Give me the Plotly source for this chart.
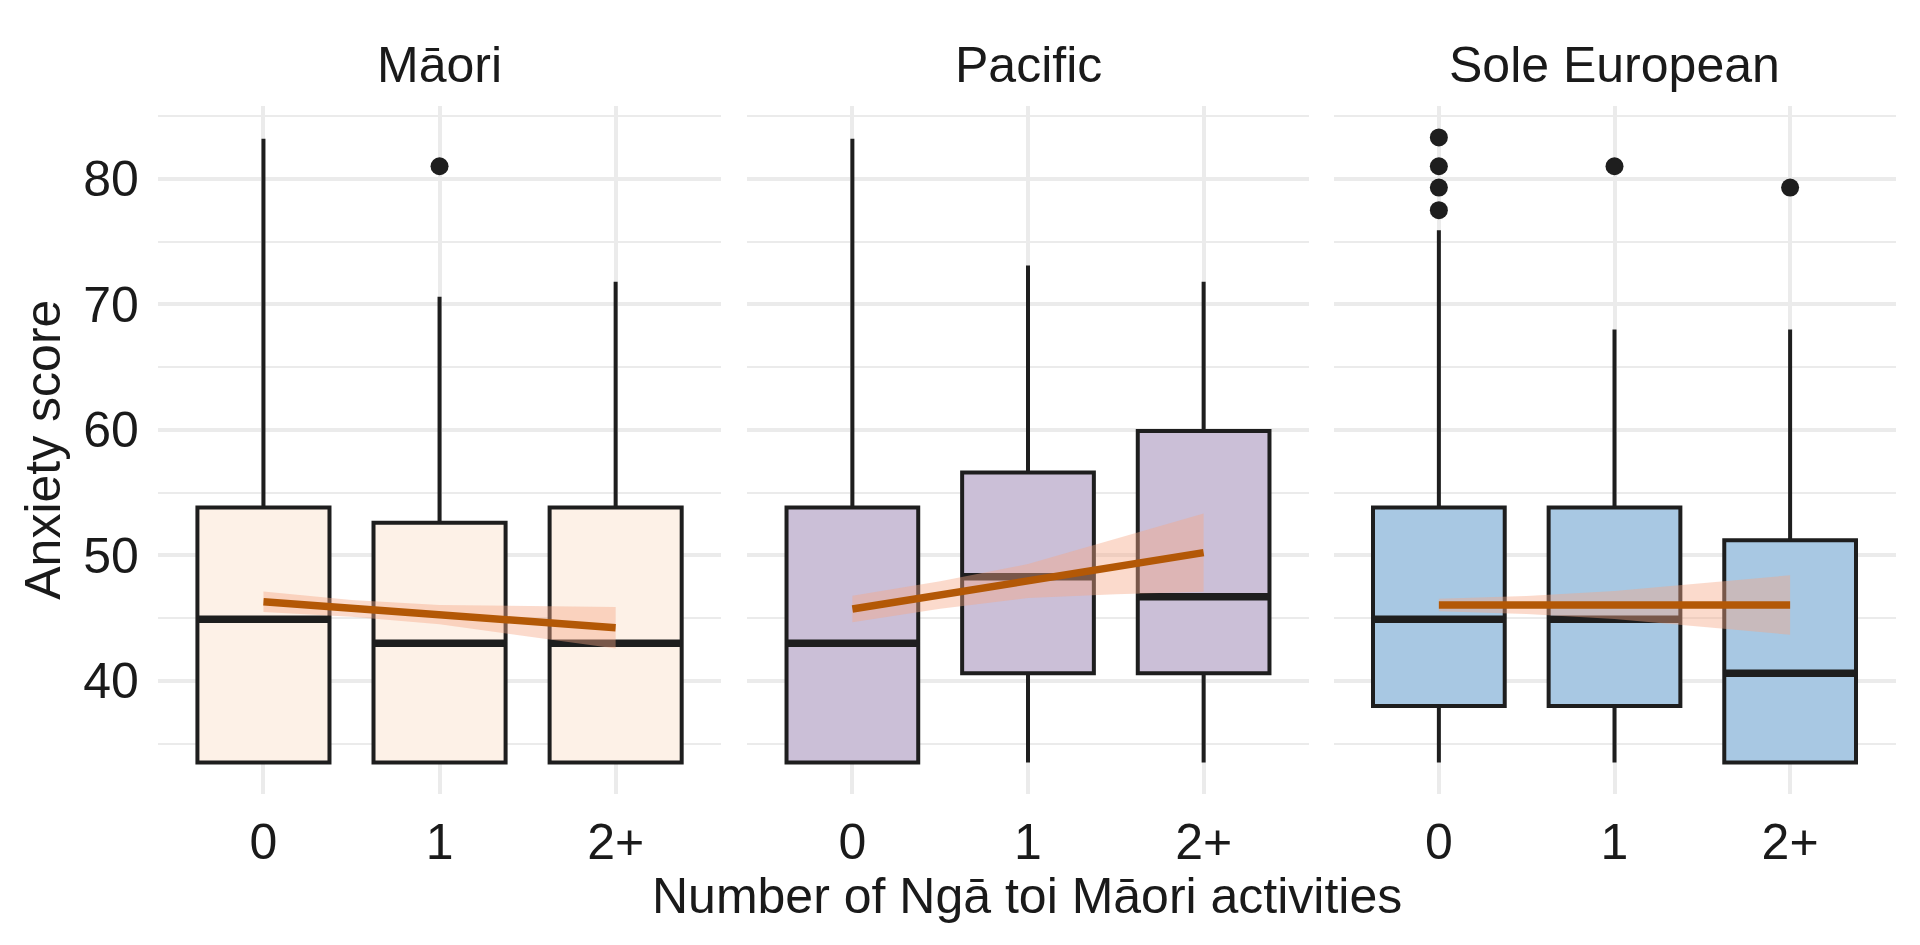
import plotly.graph_objects as go

# ---------------- data ----------------
groups = ["Māori", "Pacific", "Sole European"]
categories = ["0", "1", "2+"]

# box statistics, one list per group (order of groups above)
q1 = [[33.5, 33.5, 33.5], [33.5, 40.6, 40.6], [38.0, 38.0, 33.5]]
median = [[44.9, 43.0, 43.0], [43.0, 48.3, 46.7], [44.9, 44.9, 40.6]]
q3 = [[53.8, 52.6, 53.8], [53.8, 56.6, 59.9], [53.8, 53.8, 51.2]]
lower_whisker = [[33.5, 33.5, 33.5], [33.5, 33.5, 33.5], [33.5, 33.5, 33.5]]
upper_whisker = [[83.2, 70.6, 71.8], [83.2, 73.1, 71.8], [75.9, 68.0, 68.0]]

# outliers: (category index, value)
outlier_cat = [[1], [], [0, 0, 0, 0, 1, 2]]
outlier_val = [[81.0], [], [83.3, 81.0, 79.3, 77.5, 81.0, 79.3]]

# linear trend with confidence band, read at these category positions
trend_pos = [0, 0.5, 1, 1.5, 2]
trend_fit = [[46.30, 45.78, 45.27, 44.76, 44.23],
             [45.72, 46.84, 47.95, 49.09, 50.21],
             [46.04, 46.04, 46.04, 46.04, 46.04]]
trend_upper = [[47.12, 46.44, 46.04, 45.96, 45.88],
               [46.78, 47.94, 49.30, 51.29, 53.33],
               [46.54, 46.76, 47.16, 47.81, 48.41]]
trend_lower = [[45.48, 45.11, 44.50, 43.56, 42.58],
               [44.66, 45.74, 46.60, 46.89, 47.09],
               [45.54, 45.32, 44.92, 44.27, 43.67]]

y_ticks = [40, 50, 60, 70, 80]

# ---------------- style ----------------
fills = ["#FDF1E7", "#CBBFD7", "#A8C8E3"]
ink = "#1E1E1E"
txt = "#1A1A1A"
grid = "#EBEBEB"
line_col = "#B35806"
band_col = "rgba(245,168,133,0.42)"
FONT = "Liberation Sans, Arial, sans-serif"
FS = 50
BOXW = 0.75

W, H = 1920, 945
panel_px = [(157.8, 721.3), (747.0, 1309.0), (1333.5, 1895.5)]
top_px, bot_px = 106.0, 793.5
ydom = [1 - bot_px / H, 1 - top_px / H]

fig = go.Figure()

for g in range(3):
    xa = "x" if g == 0 else f"x{g+1}"
    ya = "y" if g == 0 else f"y{g+1}"
    pos = list(range(len(categories)))
    fig.add_trace(go.Box(
        x=pos, q1=q1[g], median=median[g], q3=q3[g],
        lowerfence=lower_whisker[g], upperfence=upper_whisker[g],
        width=BOXW, fillcolor=fills[g], line=dict(color=ink, width=4),
        whiskerwidth=0, boxpoints=False, showlegend=False,
        hoverinfo="skip", xaxis=xa, yaxis=ya))

for g in range(3):
    xa = "x" if g == 0 else f"x{g+1}"
    ya = "y" if g == 0 else f"y{g+1}"
    # thick median bars
    mx, my = [], []
    for i, m in enumerate(median[g]):
        mx += [i - BOXW / 2, i + BOXW / 2, None]
        my += [m, m, None]
    fig.add_trace(go.Scatter(x=mx, y=my, mode="lines",
                             line=dict(color=ink, width=7.5),
                             showlegend=False, hoverinfo="skip",
                             xaxis=xa, yaxis=ya))
    if outlier_val[g]:
        fig.add_trace(go.Scatter(x=outlier_cat[g], y=outlier_val[g],
                                 mode="markers",
                                 marker=dict(color=ink, size=18),
                                 showlegend=False, hoverinfo="skip",
                                 xaxis=xa, yaxis=ya))
    # confidence band
    bx = trend_pos + trend_pos[::-1]
    by = trend_upper[g] + trend_lower[g][::-1]
    fig.add_trace(go.Scatter(x=bx, y=by, mode="lines", fill="toself",
                             fillcolor=band_col, line=dict(width=0),
                             showlegend=False, hoverinfo="skip",
                             xaxis=xa, yaxis=ya))
    fig.add_trace(go.Scatter(x=trend_pos, y=trend_fit[g], mode="lines",
                             line=dict(color=line_col, width=7.5),
                             showlegend=False, hoverinfo="skip",
                             xaxis=xa, yaxis=ya))

layout = dict(
    width=W, height=H, margin=dict(l=0, r=0, t=0, b=0),
    paper_bgcolor="white", plot_bgcolor="white",
    font=dict(family=FONT, size=FS, color=txt),
    showlegend=False,
)
for g in range(3):
    xk = "xaxis" if g == 0 else f"xaxis{g+1}"
    yk = "yaxis" if g == 0 else f"yaxis{g+1}"
    x0, x1 = panel_px[g]
    layout[xk] = dict(
        domain=[x0 / W, x1 / W], range=[-0.6, 2.6],
        tickmode="array", tickvals=list(range(len(categories))),
        ticktext=categories, showgrid=True, gridcolor=grid, gridwidth=3.5,
        zeroline=False, showline=False, ticks="",
        tickfont=dict(family=FONT, size=FS, color=txt),
        ticklabelstandoff=14, anchor="y" if g == 0 else f"y{g+1}",
    )
    layout[yk] = dict(
        domain=ydom, range=[31.02, 85.8],
        tickmode="array", tickvals=y_ticks,
        showgrid=True, gridcolor=grid, gridwidth=3.5,
        minor=dict(dtick=5, tick0=0, showgrid=True, gridcolor=grid, gridwidth=1.8),
        zeroline=False, showline=False, ticks="",
        showticklabels=(g == 0),
        tickfont=dict(family=FONT, size=FS, color=txt),
        ticklabelstandoff=18,
        anchor="x" if g == 0 else f"x{g+1}",
    )
    if g > 0:
        layout[yk]["matches"] = "y"

annotations = []
for g in range(3):
    x0, x1 = panel_px[g]
    annotations.append(dict(
        text=groups[g], x=(x0 + x1) / 2 / W, y=1 - 65 / H,
        xref="paper", yref="paper", xanchor="center", yanchor="middle",
        showarrow=False, font=dict(family=FONT, size=FS, color=txt)))
annotations.append(dict(
    text="Number of Ngā toi Māori activities",
    x=(panel_px[0][0] + panel_px[2][1]) / 2 / W, y=1 - 896 / H,
    xref="paper", yref="paper", xanchor="center", yanchor="middle",
    showarrow=False, font=dict(family=FONT, size=FS, color=txt)))
annotations.append(dict(
    text="Anxiety score", x=43 / W, y=(ydom[0] + ydom[1]) / 2,
    xref="paper", yref="paper", xanchor="center", yanchor="middle",
    textangle=-90, showarrow=False,
    font=dict(family=FONT, size=FS, color=txt)))
layout["annotations"] = annotations

fig.update_layout(**layout)
fig.write_html("out.html")
